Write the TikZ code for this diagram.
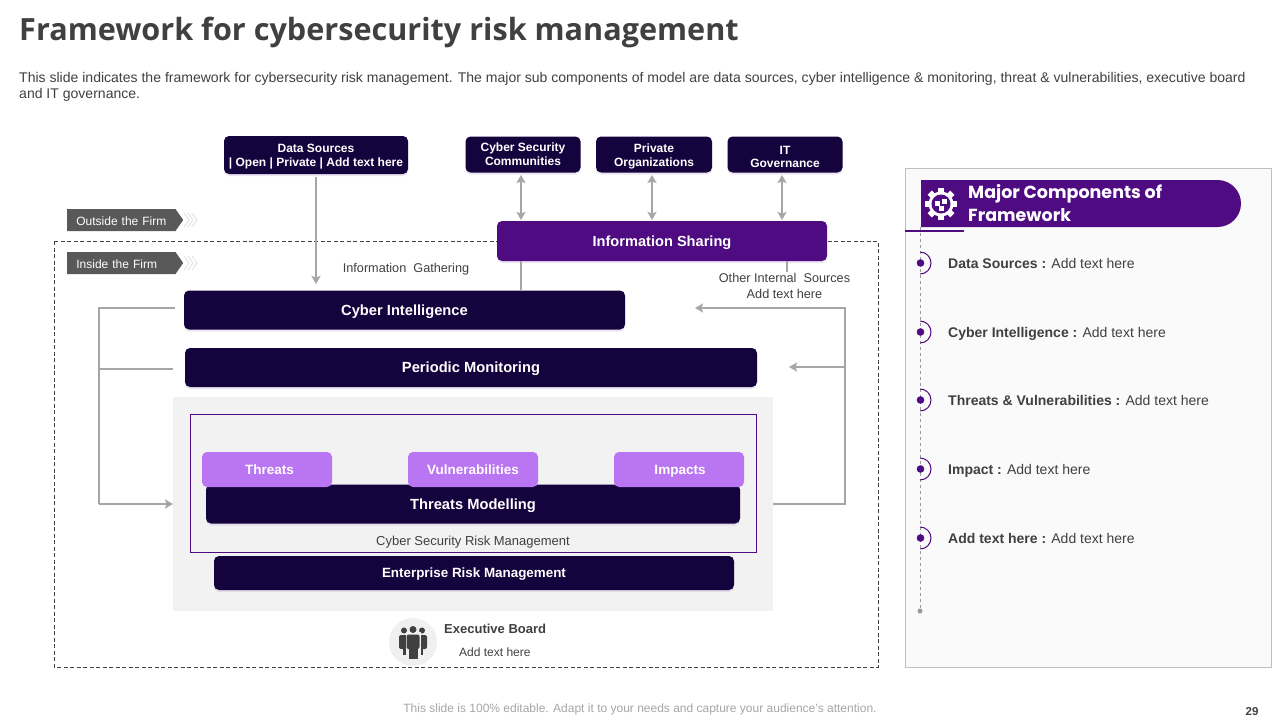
\documentclass[tikz,border=0pt]{standalone}
\usepackage{fontspec}
\setmainfont{Liberation Sans}
\newfontfamily\titlefont{Open Sans}
\newfontfamily\headfont{Poppins}
\usetikzlibrary{arrows.meta,shapes.geometric,shapes.symbols,shadows,calc}
\definecolor{navy}{HTML}{14033D}
\definecolor{purp}{HTML}{4E0B82}
\definecolor{lilac}{HTML}{BA75F2}
\definecolor{txt}{HTML}{404040}
\definecolor{conn}{HTML}{A6A6A6}
\definecolor{tagc}{HTML}{595959}
\newcommand{\fsz}[1]{\fontsize{#1}{1.15\dimexpr #1pt\relax}\selectfont}
\tikzset{
  x=1pt,y=-1pt,
  oneline/.style={text height=#1,text depth=0pt},
  softshadow/.style={general shadow={shadow xshift=0pt,shadow yshift=-2pt,fill=purp!40,opacity=.25}},
  boxbase/.style={anchor=center,rounded corners=5pt,inner sep=0pt,align=center,text=white,font=\bfseries},
  navybox/.style={boxbase,fill=navy,softshadow},
  smallbox/.style={navybox,font=\fsz{12}\bfseries},
  bigbox/.style={navybox,font=\fsz{14.7}\bfseries,oneline=10.500pt},
  lilacbox/.style={boxbase,fill=lilac,font=\fsz{13.500}\bfseries,minimum width=130pt,minimum height=35pt,oneline=9.500pt},
  link/.style={draw=conn,line width=2pt},
  arrowlink/.style={link,-{Stealth[length=8pt,width=9pt,inset=1.500pt]}},
  bothlink/.style={link,{Stealth[length=8pt,width=9pt,inset=1.500pt]}-{Stealth[length=8pt,width=9pt,inset=1.500pt]}},
  lbl/.style={text=txt,font=\fsz{12.700},align=center,inner sep=0pt},
  tagbox/.style={fill=tagc,text=white,font=\fsz{12},inner sep=0pt,anchor=west,
     signal,signal to=east,signal pointer angle=110,minimum height=22pt,minimum width=116pt,text width=106pt,align=left},
  comp/.style={text=txt,font=\fsz{14},anchor=west,inner sep=0pt,oneline=10pt},
  chev/.style={draw=black!10,line width=1pt}
}
\begin{document}
\begin{tikzpicture}
\useasboundingbox (0,0) rectangle (1280,720);
\fill[white] (0,0) rectangle (1280,720);
% title and intro
\node[anchor=west,inner sep=0pt,text=txt,font=\titlefont\fsz{30.600}\bfseries,oneline=22pt] (title) at (19,29) {Framework for cybersecurity risk management};
\node[anchor=west,inner sep=0pt,text=txt,font=\fsz{14.030},oneline=10pt] (intro1) at (19,77) {This slide indicates the framework for cybersecurity risk management. The major sub components of model are data sources, cyber intelligence \& monitoring, threat \& vulnerabilities, executive board};
\node[anchor=west,inner sep=0pt,text=txt,font=\fsz{14.030},oneline=10pt] (intro2) at (19,93) {and IT governance.};
% dashed firm border
\draw[draw=txt,line width=0.9pt,dash pattern=on 4pt off 2.5pt] (54,241) rectangle (878,667);
% inner grey area
\fill[black!5] (173,397) rectangle (773,611);
\draw[draw=purp,line width=1pt] (190,414) rectangle (756,552);
% top boxes
\node[smallbox,minimum width=184pt,minimum height=38pt] (data) at (316,155) {\rule{0pt}{11.500pt}Data Sources\\| Open | Private | Add text here};
\node[smallbox,minimum width=115pt,minimum height=36pt] (comm) at (523,154.500) {Cyber Security\\Communities};
\node[smallbox,minimum width=116pt,minimum height=36pt] (priv) at (654,154.500) {\rule{0pt}{13pt}Private\\Organizations};
\node[smallbox,minimum width=115pt,minimum height=36pt] (itgov) at (785,154.500) {\rule{0pt}{13pt}IT\\Governance};
\node[boxbase,fill=purp,font=\fsz{14.600}\bfseries,minimum width=330pt,minimum height=40pt,oneline=10.500pt,softshadow] (share) at (662,241) {Information Sharing};
% main boxes
\node[bigbox,minimum width=441pt,minimum height=39pt] (cyber) at (404.500,310) {Cyber Intelligence};
\node[bigbox,minimum width=572pt,minimum height=39pt] (period) at (471,367.500) {Periodic Monitoring};
\node[bigbox,minimum width=534pt,minimum height=39pt] (model) at (473,504) {Threats Modelling};
\node[navybox,font=\fsz{13.400}\bfseries,oneline=9.500pt,minimum width=520pt,minimum height=34pt] (erm) at (474,573) {Enterprise Risk Management};
\node[lilacbox] (threats) at (267,469.500) {\hspace*{5pt}Threats};
\node[lilacbox] (vuln) at (473,469.500) {Vulnerabilities};
\node[lilacbox] (impacts) at (679,469.500) {\hspace*{2pt}Impacts};
% tags
\node[tagbox,oneline=10.600pt] (outside) at (67,220) {\hspace*{8pt}Outside the Firm};
\node[tagbox,oneline=10.600pt] (inside) at (67,263) {\hspace*{8pt}Inside the Firm};
\foreach \yy in {220,263}{\foreach \xx in {184,188,192}{\draw[chev] (\xx,\yy-7) -- (\xx+5,\yy) -- (\xx,\yy+7);}}
% labels
\node[lbl,oneline=9pt] (gather) at (406,267.500) {Information\ \ Gathering};
\node[lbl] (other) at (784.500,286) {Other Internal\ \ Sources\\[1pt]Add text here};
\node[lbl,font=\fsz{13},oneline=9.300pt] (csrm) at (473,540.500) {Cyber Security Risk Management};
\node[lbl,font=\fsz{13}\bfseries,anchor=west,oneline=9.300pt] (execb) at (444,629) {Executive Board};
\node[lbl,font=\fsz{12},anchor=west,oneline=8.600pt] (execa) at (459,652.500) {Add text here};
% connector end points
\coordinate (dataStart) at (316,177);
\coordinate (dataEnd) at (316,284);
\coordinate (shareA) at (521,290);
\coordinate (shareB) at (787,272);
\coordinate (cyL) at (175,308);
\coordinate (peL) at (173,369);
\coordinate (grayL) at (173,504);
\coordinate (leftTop) at (99,308);
\coordinate (leftMid) at (99,369);
\coordinate (leftBot) at (99,504);
\coordinate (grayR) at (773,504);
\coordinate (rightBot) at (845,504);
\coordinate (rightMid) at (845,367);
\coordinate (rightTop) at (845,308);
\coordinate (cyArrow) at (695,308);
\coordinate (peArrow) at (789,367);
% connectors
\draw[arrowlink] (dataStart) -- (dataEnd);
\draw[bothlink] (521,175) -- (521,220);
\draw[bothlink] (652,175) -- (652,220);
\draw[bothlink] (782,175) -- (782,220);
\draw[link] (521,261) -- (shareA);
\draw[link] (787,261) -- (shareB);
\draw[link] (cyL) -- (leftTop) -- (leftBot);
\draw[link] (peL) -- (leftMid);
\draw[arrowlink] (leftBot) -- (grayL);
\draw[arrowlink] (grayR) -- (rightBot) -- (rightTop) -- (cyArrow);
\draw[arrowlink] (rightMid) -- (peArrow);
% executive icon
\fill[black!6] (413,642) circle (24);
\begin{scope}[txt]
\fill (404,630.500) circle (3); \fill (422,630.500) circle (3);
\fill[rounded corners=2pt] (399,635) rectangle (409,649);
\fill[rounded corners=2pt] (417,635) rectangle (427,649);
\fill (403,649) rectangle (408,655); \fill (418,649) rectangle (423,655);
\fill[black!6] (405.500,632) rectangle (420.500,658);
\fill (413,629.500) circle (3.500);
\fill[rounded corners=2pt] (406.500,634.500) rectangle (419.500,649);
\fill (408.500,649) rectangle (417.500,659);
\end{scope}
% right panel
\draw[draw=black!25,fill=black!2,line width=1pt] (905,168) rectangle (1271,667);
\fill[purp] (921,180) -- (1217.500,180) arc[start angle=-90,end angle=90,radius=23.500] -- (921,227) -- cycle;
\node[anchor=west,inner sep=0pt,align=left,text=white,font=\headfont\fontsize{17.500}{23}\selectfont\bfseries] (major) at (968,203) {Major Components of\\Framework};
\draw[purp,line width=2.5pt] (905,231) -- (964,231);
\draw[draw=black!40,line width=0.6pt,dashed] (920,227) -- (920,611);
\fill[black!40] (920,611) circle (2.5);
\foreach \yy in {263,332,400,469,538}{
  \draw[purp,line width=1pt] (920,\yy-11) arc[start angle=-90,end angle=90,radius=11];
  \fill[purp] (920.500,\yy) circle (3.800);
}
\node[comp] (c1) at (948,263) {\textbf{Data Sources :} Add text here};
\node[comp] (c2) at (948,332) {\textbf{Cyber Intelligence :} Add text here};
\node[comp] (c3) at (948,400) {\textbf{Threats \& Vulnerabilities :} Add text here};
\node[comp] (c4) at (948,469) {\textbf{Impact :} Add text here};
\node[comp] (c5) at (948,538) {\textbf{Add text here :} Add text here};
% gear icon
\begin{scope}[shift={(941,204)}]
\foreach \a in {0,45,...,315}{\fill[white,rotate=\a] (-3,-16) rectangle (3,-11);}
\fill[white] (0,0) circle (12.500);
\fill[purp] (0,0) circle (9.500);
\fill[white] (-6,-3) rectangle (-1,2);
\fill[white] (1,-5) rectangle (6,0);
\fill[white] (-2,2) rectangle (3,7);
\end{scope}
% footer
\node[anchor=center,inner sep=0pt,text=conn,font=\fsz{12},oneline=8.600pt] (foot) at (640,708.500) {This slide is 100\% editable. Adapt it to your needs and capture your audience's attention.};
\node[anchor=center,inner sep=0pt,text=txt,font=\fsz{11.500}\bfseries,oneline=8.200pt] (page) at (1252,711) {29};
\end{tikzpicture}
\end{document}
